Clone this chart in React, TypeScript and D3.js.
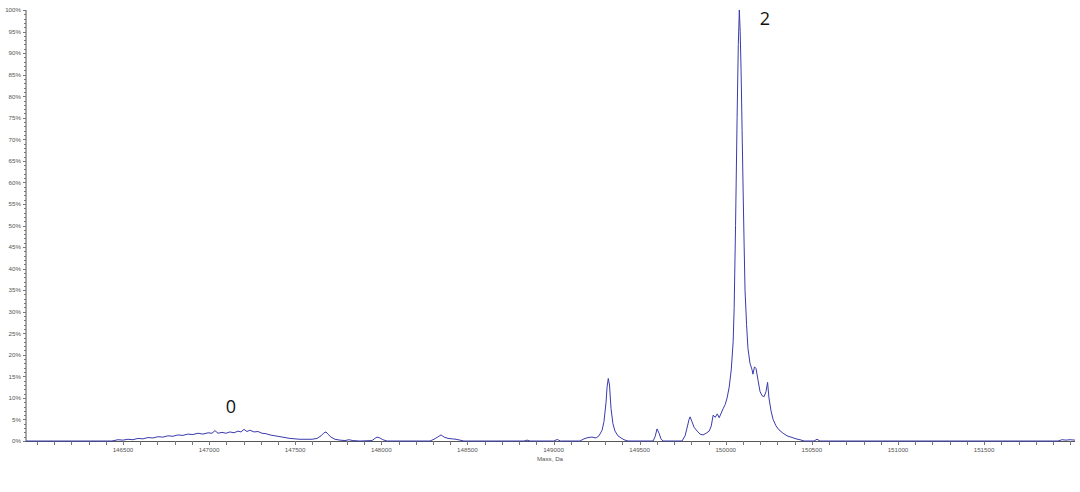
import React from "react";
import * as d3 from "d3";

// Spectrum: mass (Da) and relative intensity (%)
const masses: number[] = [
  145937, 146436, 146471, 146500, 146529, 146558, 146587, 146616, 146645, 146674,
  146703, 146732, 146761, 146790, 146819, 146848, 146877, 146906, 146936, 146965,
  146994, 147017, 147034, 147052, 147075, 147098, 147121, 147145, 147168, 147185,
  147203, 147220, 147237, 147261, 147284, 147307, 147330, 147354, 147383, 147412,
  147441, 147470, 147499, 147528, 147563, 147598, 147627, 147650, 147667, 147679,
  147690, 147708, 147731, 147760, 147789, 147812, 147835, 147876, 147946, 147963,
  147975, 147992, 148009, 148033, 148283, 148306, 148330, 148347, 148365, 148388,
  148411, 148434, 148457, 148480, 148829, 148846, 148864, 149000, 149022, 149040,
  149154, 149177, 149200, 149223, 149247, 149264, 149282, 149293, 149305, 149311,
  149318, 149325, 149334, 149345, 149357, 149374, 149392, 149409, 149432, 149578,
  149590, 149601, 149613, 149624, 149636, 149746, 149764, 149775, 149787, 149793,
  149804, 149816, 149834, 149851, 149868, 149886, 149904, 149916, 149927, 149939,
  149951, 149962, 149974, 149985, 149997, 150008, 150020, 150032, 150043, 150049,
  150057, 150066, 150073, 150079, 150084, 150089, 150095, 150101, 150107, 150112,
  150121, 150129, 150141, 150153, 150158, 150167, 150176, 150188, 150199, 150211,
  150223, 150234, 150243, 150251, 150263, 150275, 150292, 150309, 150333, 150356,
  150379, 150408, 150431, 150455, 150513, 150530, 150547, 151929, 151953, 151976,
  151999, 152028,
];

const intensities: number[] = [
  0, 0, 0.3, 0.2, 0.4, 0.3, 0.6, 0.5, 0.8, 0.7,
  1.0, 0.9, 1.2, 1.1, 1.4, 1.3, 1.6, 1.5, 1.8, 1.6,
  1.9, 1.8, 2.4, 1.8, 2.0, 1.8, 2.1, 1.9, 2.3, 2.1,
  2.7, 2.2, 2.5, 2.1, 2.2, 1.8, 1.7, 1.4, 1.2, 1.0,
  0.8, 0.6, 0.5, 0.4, 0.4, 0.4, 0.6, 1.2, 1.9, 2.1,
  1.6, 0.9, 0.4, 0.2, 0.1, 0.3, 0.1, 0, 0.1, 0.6,
  0.9, 0.7, 0.3, 0, 0, 0.4, 1.0, 1.4, 0.9, 0.6,
  0.5, 0.4, 0.2, 0, 0, 0.2, 0, 0, 0.35, 0,
  0, 0.5, 0.8, 0.9, 0.7, 1.2, 2.5, 4.5, 9, 12.5,
  14.5, 13, 7.5, 4, 2.3, 1.2, 0.7, 0.3, 0, 0,
  1.0, 2.8, 1.8, 0.5, 0, 0, 1.2, 3.0, 5.0, 5.6,
  4.5, 3.2, 2.3, 1.6, 1.4, 1.8, 2.3, 3.5, 6.0, 5.5,
  6.3, 5.4, 6.5, 7.5, 8.5, 10, 12.5, 16.5, 23, 31,
  50, 75, 92, 100, 95, 86, 72, 58, 45, 35,
  27, 21.5, 18, 16.5, 15.5, 17.2, 16.8, 14, 11.5, 10.5,
  10.3, 11.5, 13.6, 10, 7, 5, 3.5, 2.6, 1.8, 1.2,
  0.9, 0.5, 0.3, 0, 0, 0.4, 0, 0, 0.3, 0.2,
  0.3, 0.2,
];

const xTickLabels: number[] = [146500, 147000, 147500, 148000, 148500, 149000, 149500, 150000, 150500, 151000, 151500];
const yTickLabels: number[] = [0, 5, 10, 15, 20, 25, 30, 35, 40, 45, 50, 55, 60, 65, 70, 75, 80, 85, 90, 95, 100];

const annotationLabels: string[] = ["0", "2"];
const annotationMasses: number[] = [147127, 150228];
const annotationPcts: number[] = [6.5, 96.5];

const W = 1080;
const H = 492;

export default function App() {
  const x = d3.scaleLinear().domain([145937, 152028]).range([26, 1075]);
  const y = d3.scaleLinear().domain([0, 100]).range([441, 10]);

  const pts: [number, number][] = masses.map((m, i) => [m, intensities[i]]);
  const line = d3
    .line<[number, number]>()
    .x((d) => x(d[0]))
    .y((d) => y(d[1]));

  const minorX = d3.range(146000, 152001, 100);
  const minorY = d3.range(0, 101, 1);
  const font = "Liberation Sans, Arial, sans-serif";

  return (
    <svg
      width={W}
      height={H}
      style={{ position: "absolute", left: 0, top: 0, background: "#fff" }}
    >
      {/* y axis */}
      <line x1={26} x2={26} y1={y(100)} y2={y(0)} stroke="#555" strokeWidth={1} />
      {minorY.map((v) => (
        <line
          key={"my" + v}
          x1={v % 5 === 0 ? 23 : 24}
          x2={26}
          y1={Math.round(y(v)) + 0.5}
          y2={Math.round(y(v)) + 0.5}
          stroke="#777"
          strokeWidth={1}
        />
      ))}
      {yTickLabels.map((v) => (
        <text
          key={"yl" + v}
          x={21}
          y={y(v) + 2.3}
          textAnchor="end"
          fontSize={6.2}
          fill="#555"
          fontFamily={font}
        >
          {v + "%"}
        </text>
      ))}
      {/* x axis */}
      <line x1={26} x2={1075} y1={441.5} y2={441.5} stroke="#555" strokeWidth={1} />
      {minorX.map((v) => (
        <line
          key={"mx" + v}
          x1={Math.round(x(v)) + 0.5}
          x2={Math.round(x(v)) + 0.5}
          y1={441}
          y2={445}
          stroke="#777"
          strokeWidth={1}
        />
      ))}
      {xTickLabels.map((v) => (
        <text
          key={"xl" + v}
          x={x(v)}
          y={451.5}
          textAnchor="middle"
          fontSize={6.2}
          fill="#555"
          fontFamily={font}
        >
          {v}
        </text>
      ))}
      <text x={550} y={461} textAnchor="middle" fontSize={6.2} fill="#555" fontFamily={font}>
        Mass, Da
      </text>
      {/* spectrum */}
      <path d={line(pts) || ""} fill="none" stroke="#3a3aad" strokeWidth={1} strokeLinejoin="round" />
      {/* peak annotations */}
      {annotationLabels.map((t, i) => (
        <text
          key={"an" + i}
          x={x(annotationMasses[i])}
          y={y(annotationPcts[i])}
          textAnchor="middle"
          fontSize={18}
          fill="#111"
          fontFamily="Open Sans, Arial, sans-serif"
        >
          {t}
        </text>
      ))}
    </svg>
  );
}
